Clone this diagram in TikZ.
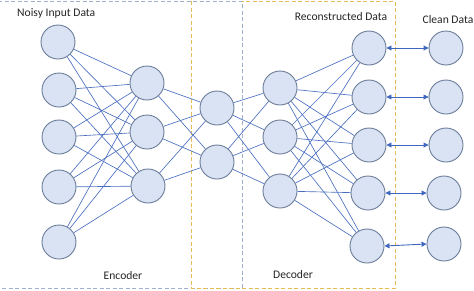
\documentclass[tikz,border=0pt]{standalone}
\usepackage{fontspec}
\setmainfont{Carlito}
\usetikzlibrary{arrows.meta}
\definecolor{nfill}{HTML}{DAE3F3}
\definecolor{ndraw}{HTML}{6A7C98}
\definecolor{edge}{HTML}{4A6FC0}
\definecolor{encbox}{HTML}{9FAFCE}
\definecolor{decbox}{HTML}{E6BC55}
\definecolor{arr}{HTML}{3F67BF}
\begin{document}
\begin{tikzpicture}[x=1pt,y=-1pt,
  neuron/.style={circle,draw=ndraw,fill=nfill,line width=0.9pt,minimum size=34pt,inner sep=0pt},
  conn/.style={draw=edge,line width=0.65pt},
  encdash/.style={draw=encbox,line width=0.9pt,dash pattern=on 4pt off 2.5pt},
  decdash/.style={draw=decbox,line width=0.9pt,dash pattern=on 4pt off 2.5pt},
  lbl/.style={font=\fontsize{11.6}{13}\selectfont,text=black!85,inner sep=0pt},
  biarrow/.style={arr,line width=0.9pt,{Triangle[length=5pt,width=5pt]}-{Triangle[length=5pt,width=5pt]}}
]
\useasboundingbox (0,0) rectangle (474,290);
% boxes
\draw[encdash] (-2,1) -- (242,1) -- (242,288) -- (-2,288);
\draw[decdash] (191,1) -- (191,288) -- (395,288) -- (395,1) -- (242,1);
% input layer
\node[neuron] (i1) at (58,42) {};
\node[neuron] (i2) at (59,90) {};
\node[neuron] (i3) at (59,137) {};
\node[neuron] (i4) at (59,187) {};
\node[neuron] (i5) at (59,242) {};
% hidden 1
\node[neuron] (h1) at (147,83) {};
\node[neuron] (h2) at (147,132) {};
\node[neuron] (h3) at (148,186) {};
% bottleneck
\node[neuron] (b1) at (217,108) {};
\node[neuron] (b2) at (217,162) {};
% decoder hidden
\node[neuron] (d1) at (280,88) {};
\node[neuron] (d2) at (280,137) {};
\node[neuron] (d3) at (280,191) {};
% output
\node[neuron] (o1) at (369,48) {};
\node[neuron] (o2) at (369,97) {};
\node[neuron] (o3) at (369,145) {};
\node[neuron] (o4) at (368,193) {};
\node[neuron] (o5) at (367,246) {};
% clean
\node[neuron] (c1) at (446,48) {};
\node[neuron] (c2) at (446,97) {};
\node[neuron] (c3) at (446,145) {};
\node[neuron] (c4) at (444,193) {};
\node[neuron] (c5) at (444,244) {};
% connections
\foreach \a in {i1,i2,i3,i4,i5}{\foreach \b in {h1,h2,h3}{\draw[conn] (\a) -- (\b);}}
\foreach \a in {h1,h2,h3}{\foreach \b in {b1,b2}{\draw[conn] (\a) -- (\b);}}
\foreach \a in {b1,b2}{\foreach \b in {d1,d2,d3}{\draw[conn] (\a) -- (\b);}}
\foreach \a in {d1,d2,d3}{\foreach \b in {o1,o2,o3,o4,o5}{\draw[conn] (\a) -- (\b);}}
% arrows
\draw[biarrow] (o1.east) -- (c1.west);
\draw[biarrow,line width=0.5pt] (o2.east) -- (c2.west);
\draw[biarrow] (o3.east) -- (c3.west);
\draw[biarrow] (o4.east) -- (c4.west);
\draw[biarrow] (o5.east) -- (c5.west);
% labels
\node[lbl,anchor=west] (tnoisy) at (17,13) {Noisy Input Data};
\node[lbl] (trec) at (341,17) {Reconstructed Data};
\node[lbl] (tclean) at (448,20) {Clean Data};
\node[lbl] (tenc) at (123,276) {Encoder};
\node[lbl] (tdec) at (293,275) {Decoder};
\end{tikzpicture}
\end{document}
